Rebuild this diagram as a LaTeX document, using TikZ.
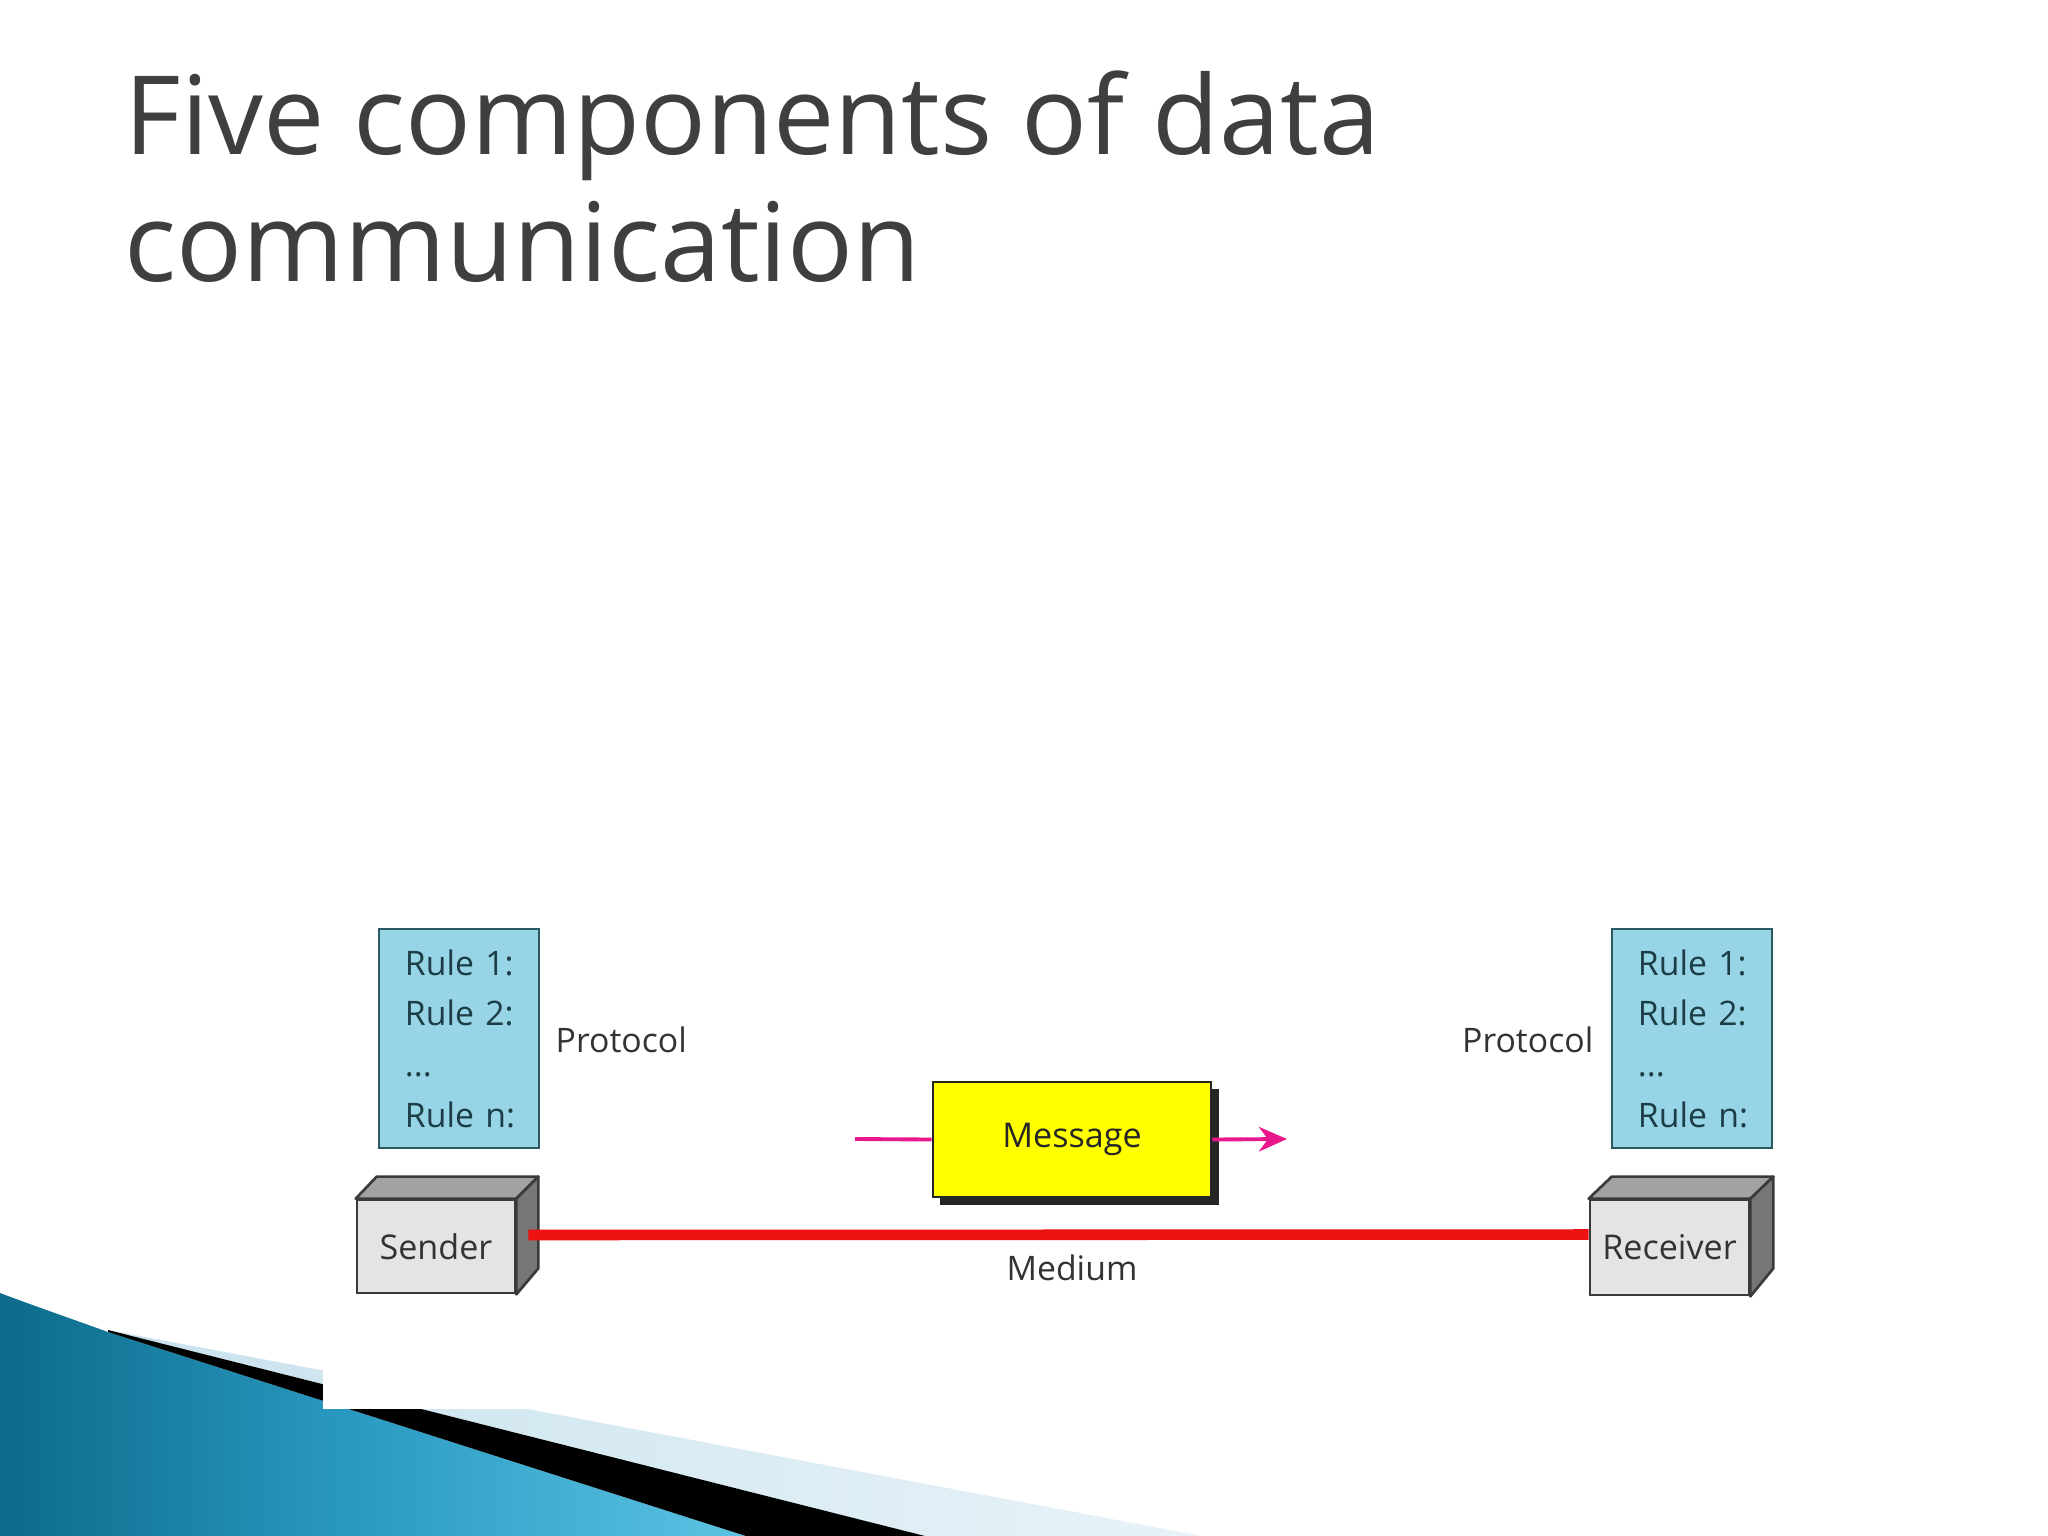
\documentclass[tikz,border=0pt]{standalone}
\usepackage{fontspec}
\setmainfont{Open Sans}
\usetikzlibrary{shadows,arrows.meta,calc}
\definecolor{titlegray}{HTML}{3F3F3F}
\definecolor{protofill}{HTML}{96D4E6}
\definecolor{protoline}{HTML}{2B5A63}
\definecolor{prototext}{HTML}{1C3D45}
\definecolor{labelgray}{HTML}{333333}
\definecolor{boxfront}{HTML}{E4E4E4}
\definecolor{boxtop}{HTML}{A2A2A2}
\definecolor{boxside}{HTML}{767676}
\definecolor{boxline}{HTML}{3A3A3A}
\definecolor{mediumred}{HTML}{EE1111}
\definecolor{msgpink}{HTML}{E8188C}
\definecolor{msgyellow}{HTML}{FFFF00}
\definecolor{swdark}{HTML}{0C6A8B}
\definecolor{swmid}{HTML}{2C9CC4}
\definecolor{swlight}{HTML}{5CC3E3}
\definecolor{bandlight}{HTML}{C9E2EE}
\definecolor{bandpale}{HTML}{E8F3F8}
\tikzset{
  titletext/.style={anchor=base west, inner sep=0pt, text=titlegray, font=\fontsize{31.1}{36}\selectfont},
  protobox/.style={draw=protoline, line width=0.75pt, fill=protofill, minimum width=1.6cm, minimum height=2.19cm,
    text width=1.08cm, align=left, text=prototext, font=\fontsize{9.6}{14.4}\selectfont, inner sep=0pt},
  difflabel/.style={text=labelgray, font=\fontsize{9.6}{12}\selectfont, inner sep=0pt},
  devfront/.style={draw=boxline, line width=0.75pt, fill=boxfront, text=labelgray, inner sep=0pt,
    font=\fontsize{9.7}{12}\selectfont},
  devtop/.style={draw=boxline, line width=0.75pt, fill=boxtop, line join=round},
  devside/.style={draw=boxline, line width=0.75pt, fill=boxside, line join=round},
  msgbox/.style={draw=black!85, line width=0.7pt, fill=msgyellow, minimum width=2.78cm, minimum height=1.15cm,
    text=black!85, font=\fontsize{9.7}{12}\selectfont,
    drop shadow={shadow xshift=0.075cm, shadow yshift=-0.075cm, fill=black!85, opacity=1}},
  mediumline/.style={draw=mediumred, line width=3pt},
  msgflow/.style={draw=msgpink, line width=1.1pt},
}
\begin{document}
\begin{tikzpicture}[x=0.01cm, y=-0.01cm]
\useasboundingbox (0,0) rectangle (2048,1536);
\fill[white] (0,0) rectangle (2048,1536);

% decorative swoosh, bottom left
\shade[left color=swdark, right color=swlight, middle color=swmid]
  (0,1293) .. controls (40,1308) and (75,1320) .. (108,1332) -- (746,1536) -- (0,1536) -- cycle;
\shade[left color=bandlight, right color=bandpale]
  (108,1330) -- (1202,1536) -- (925,1536) -- cycle;
\fill[black] (108,1330) -- (925,1536) -- (746,1536) -- (108,1332) -- cycle;
\fill[white] (323,1000) rectangle (1900,1409);

% title
\node[titletext] (t1) at (124,154) {Five components of data};
\node[titletext] (t2) at (124,281) {communication};

% protocol boxes
\node[protobox] (pl) at (459,1038.5) {Rule~1:\\Rule~2:\\...\\Rule~n:};
\node[protobox] (pr) at (1692,1038.5) {Rule~1:\\Rule~2:\\...\\Rule~n:};
\node[difflabel, anchor=west] (plab) at (555,1040) {Protocol};
\node[difflabel, anchor=east] (prlab) at (1594,1040) {Protocol};

% sender
\node[devfront, minimum width=1.58cm, minimum height=0.93cm] (s) at (436,1246.5) {Sender};
\draw[devtop] (s.north west) -- ([shift={(21,-22)}]s.north west) -- ([shift={(22,-22)}]s.north east) -- (s.north east) -- cycle;
\draw[devside] (s.north east) -- ([shift={(22,-22)}]s.north east) -- ([shift={(22,-26)}]s.south east) -- (s.south east) -- cycle;

% receiver
\node[devfront, minimum width=1.59cm, minimum height=0.95cm] (r) at (1669.5,1247.5) {Receiver};
\draw[devtop] (r.north west) -- ([shift={(23,-22)}]r.north west) -- ([shift={(23,-22)}]r.north east) -- (r.north east) -- cycle;
\draw[devside] (r.north east) -- ([shift={(23,-22)}]r.north east) -- ([shift={(23,-28)}]r.south east) -- (r.south east) -- cycle;

% medium
\draw[mediumline] ([shift={(12,-11.5)}]s.east) -- ([shift={(0,-13)}]r.west);
\node[difflabel] (med) at (1072,1268) {Medium};

% message
\node[msgbox] (m) at (1072,1139.5) {Message};
\coordinate (min) at (855,1139);
\coordinate (mout) at (1287,1139);
\draw[msgflow] (min) -- (m.west);
\draw[msgflow, -{Stealth[length=8pt, width=7pt]}] (m.east) -- (mout);
\end{tikzpicture}
\end{document}
